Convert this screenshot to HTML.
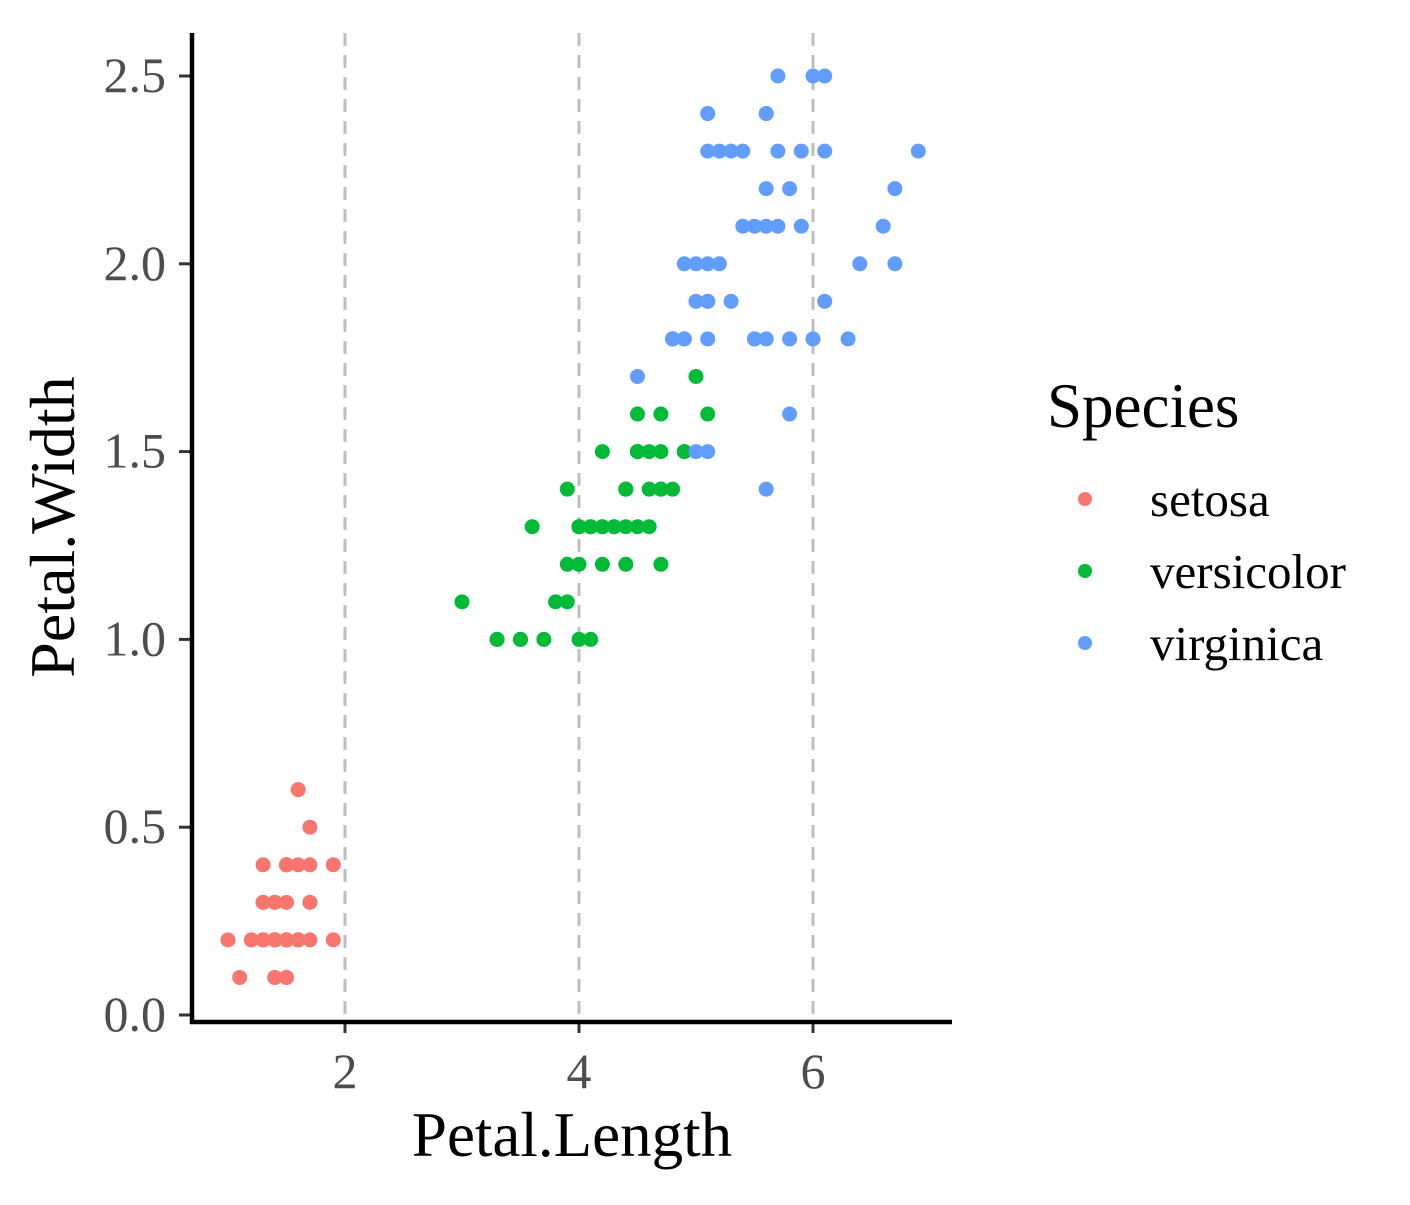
<!DOCTYPE html>
<html><head><meta charset="utf-8"><style>html,body{margin:0;padding:0;background:#fff}</style></head>
<body>
<svg id="chart" width="1410" height="1200" xmlns="http://www.w3.org/2000/svg" font-family="'Liberation Serif', serif">
<g id="grid"></g><g id="points"></g><g id="axes"></g>
<text x="572" y="1156" font-size="63" text-anchor="middle">Petal.Length</text>
<text transform="translate(74,527) rotate(-90)" font-size="64" text-anchor="middle">Petal.Width</text>
<g>
<text x="1047" y="427" font-size="63">Species</text>
<circle cx="1085" cy="499" r="7" fill="#F8766D"/>
<text x="1150" y="516" font-size="49">setosa</text>
<circle cx="1085" cy="571" r="7" fill="#00BA38"/>
<text x="1150" y="588" font-size="49">versicolor</text>
<circle cx="1085" cy="643" r="7" fill="#619CFF"/>
<text x="1150" y="660" font-size="49">virginica</text>
</g>
</svg>
<script>
const setosaLength=[1.4,1.4,1.3,1.5,1.4,1.7,1.4,1.5,1.4,1.5,1.5,1.6,1.4,1.1,1.2,1.5,1.3,1.4,1.7,1.5,1.7,1.5,1.0,1.7,1.9,1.6,1.6,1.5,1.4,1.6,1.6,1.5,1.5,1.4,1.5,1.2,1.3,1.4,1.3,1.5,1.3,1.3,1.3,1.6,1.9,1.4,1.6,1.4,1.5,1.4];
const setosaWidth=[0.2,0.2,0.2,0.2,0.2,0.4,0.3,0.2,0.2,0.1,0.2,0.2,0.1,0.1,0.2,0.4,0.4,0.3,0.3,0.3,0.2,0.4,0.2,0.5,0.2,0.2,0.4,0.2,0.2,0.2,0.2,0.4,0.1,0.2,0.2,0.2,0.2,0.1,0.2,0.2,0.3,0.3,0.2,0.6,0.4,0.3,0.2,0.2,0.2,0.2];
const versicolorLength=[4.7,4.5,4.9,4.0,4.6,4.5,4.7,3.3,4.6,3.9,3.5,4.2,4.0,4.7,3.6,4.4,4.5,4.1,4.5,3.9,4.8,4.0,4.9,4.7,4.3,4.4,4.8,5.0,4.5,3.5,3.8,3.7,3.9,5.1,4.5,4.5,4.7,4.4,4.1,4.0,4.4,4.6,4.0,3.3,4.2,4.2,4.2,4.3,3.0,4.1];
const versicolorWidth=[1.4,1.5,1.5,1.3,1.5,1.3,1.6,1.0,1.3,1.4,1.0,1.5,1.0,1.4,1.3,1.4,1.5,1.0,1.5,1.1,1.8,1.3,1.5,1.2,1.3,1.4,1.4,1.7,1.5,1.0,1.1,1.0,1.2,1.6,1.5,1.6,1.5,1.3,1.3,1.3,1.2,1.4,1.2,1.0,1.3,1.2,1.3,1.3,1.1,1.3];
const virginicaLength=[6.0,5.1,5.9,5.6,5.8,6.6,4.5,6.3,5.8,6.1,5.1,5.3,5.5,5.0,5.1,5.3,5.5,6.7,6.9,5.0,5.7,4.9,6.7,4.9,5.7,6.0,4.8,4.9,5.6,5.8,6.1,6.4,5.6,5.1,5.6,6.1,5.6,5.5,4.8,5.4,5.6,5.1,5.1,5.9,5.7,5.2,5.0,5.2,5.4,5.1];
const virginicaWidth=[2.5,1.9,2.1,1.8,2.2,2.1,1.7,1.8,1.8,2.5,2.0,1.9,2.1,2.0,2.4,2.3,1.8,2.2,2.3,1.5,2.3,2.0,2.0,1.8,2.1,1.8,1.8,1.8,2.1,1.6,1.9,2.0,2.2,1.5,1.4,2.3,2.4,1.8,1.8,2.1,2.4,2.3,1.9,2.3,2.5,2.3,1.9,2.0,2.3,1.8];
const xTicks=[2,4,6];
const yTicks=[0,0.5,1,1.5,2,2.5];
const yTickLabels=["0.0","0.5","1.0","1.5","2.0","2.5"];
const NS="http://www.w3.org/2000/svg";
const xs=v=>111+117*v;
const ys=v=>1015-375.6*v;
function mk(tag,attrs,parent){const e=document.createElementNS(NS,tag);for(const k in attrs)e.setAttribute(k,attrs[k]);parent.appendChild(e);return e;}
const grid=document.getElementById('grid'),pts=document.getElementById('points'),axes=document.getElementById('axes');
xTicks.forEach(t=>{
  const l=mk('line',{x1:xs(t),x2:xs(t),y1:33,y2:1022,stroke:'#bebebe','stroke-width':3,'stroke-dasharray':'13,9'},grid);
  
  
  const tk=mk('line',{x1:xs(t),x2:xs(t),y1:1022,y2:1033,stroke:'#333','stroke-width':3},axes);
  
  
  const tx=mk('text',{x:xs(t),y:1088,'font-size':50,fill:'#4d4d4d','text-anchor':'middle'},axes);
  tx.textContent=t;
  
  
});
yTicks.forEach((t,i)=>{
  const tk=mk('line',{x1:179,x2:192,y1:ys(t),y2:ys(t),stroke:'#333','stroke-width':3},axes);
  
  
  const tx=mk('text',{x:166,y:ys(t)+16,'font-size':50,fill:'#4d4d4d','text-anchor':'end'},axes);
  tx.textContent=yTickLabels[i];
  
  
});
const xa=mk('line',{x1:190,x2:952,y1:1022,y2:1022,stroke:'#000','stroke-width':4.5},axes);


const ya=mk('line',{x1:192,x2:192,y1:33,y2:1024,stroke:'#000','stroke-width':4.5},axes);


[[setosaLength,setosaWidth,'#F8766D','setosa'],[versicolorLength,versicolorWidth,'#00BA38','versicolor'],[virginicaLength,virginicaWidth,'#619CFF','virginica']].forEach(s=>{
  s[0].forEach((v,i)=>{
    const c=mk('circle',{cx:xs(v),cy:ys(s[1][i]),r:7.5,fill:s[2]},pts);
    
    
  });
});
</script>
</body></html>
